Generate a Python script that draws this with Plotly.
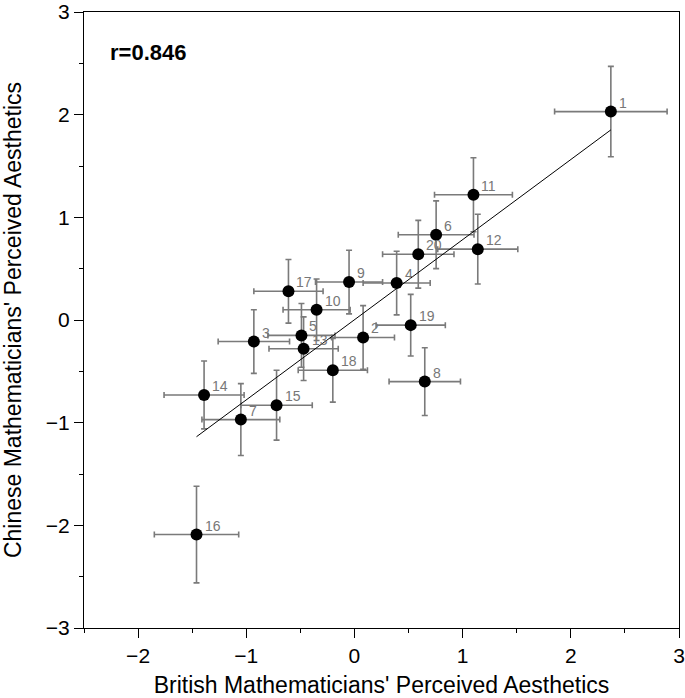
import numpy as np
import plotly.graph_objects as go

labels = [str(i) for i in range(1, 21)]
british = [2.37, 0.08, -0.93, 0.39, -0.49, 0.755, -1.05, 0.65, -0.05, -0.35,
           1.10, 1.14, -0.47, -1.39, -0.72, -1.46, -0.61, -0.20, 0.52, 0.59]
chinese = [2.03, -0.17, -0.21, 0.36, -0.15, 0.83, -0.97, -0.60, 0.37, 0.10,
           1.22, 0.69, -0.28, -0.73, -0.83, -2.09, 0.28, -0.49, -0.05, 0.64]
british_err = [0.52, 0.29, 0.33, 0.31, 0.31, 0.35, 0.36, 0.33, 0.31, 0.31,
               0.36, 0.37, 0.32, 0.37, 0.33, 0.39, 0.32, 0.32, 0.32, 0.33]
chinese_err = [0.44, 0.31, 0.31, 0.31, 0.31, 0.33, 0.35, 0.33, 0.31, 0.30,
               0.36, 0.34, 0.31, 0.33, 0.34, 0.47, 0.31, 0.31, 0.30, 0.33]
r_text = "r=0.846"

bx = np.array(british)
cy = np.array(chinese)
slope, intercept = np.polyfit(bx, cy, 1)
fit_x = np.array([bx.min(), bx.max()])
fit_y = slope * fit_x + intercept

font = "Liberation Sans, Arial, Helvetica, sans-serif"
fig = go.Figure()
fig.add_trace(go.Scatter(
    x=british, y=chinese, mode="markers",
    marker=dict(color="black", size=12),
    error_x=dict(type="data", array=british_err, color="#7a7a7a", thickness=1.6, width=3),
    error_y=dict(type="data", array=chinese_err, color="#7a7a7a", thickness=1.6, width=3),
    showlegend=False, hoverinfo="skip"))
fig.add_trace(go.Scatter(
    x=fit_x, y=fit_y, mode="lines", line=dict(color="black", width=1),
    showlegend=False, hoverinfo="skip"))

for lab, xv, yv in zip(labels, british, chinese):
    fig.add_annotation(x=xv, y=yv, text=lab, showarrow=False,
                       xanchor="left", yanchor="middle", xshift=6, yshift=9,
                       font=dict(family=font, size=14, color="#777777"))

fig.add_annotation(x=-1.91, y=2.61, text="<b>" + r_text + "</b>", showarrow=False,
                   xanchor="center", yanchor="middle",
                   font=dict(family=font, size=22, color="black"))

axis_common = dict(
    showgrid=False, zeroline=False, showline=True, mirror=True, automargin=False,
    linecolor="black", linewidth=1, ticks="outside", ticklen=9, tickwidth=1,
    tickcolor="black", dtick=1, tick0=0, ticklabeloverflow="allow",
    tickfont=dict(family=font, size=21, color="black"),
    minor=dict(dtick=0.5, tick0=0, ticks="outside", ticklen=4, tickcolor="black", showgrid=False),
)
fig.update_xaxes(range=[-2.5, 3],
                 title=dict(text="British Mathematicians' Perceived Aesthetics",
                            font=dict(family=font, size=23, color="black"), standoff=10),
                 **axis_common)
fig.update_yaxes(range=[-3, 3],
                 title=dict(text="Chinese Mathematicians' Perceived Aesthetics",
                            font=dict(family=font, size=23, color="black"), standoff=24),
                 **axis_common)
fig.update_layout(width=685, height=698, plot_bgcolor="white", paper_bgcolor="white",
                  margin=dict(l=84, r=6, t=12, b=70),
                  font=dict(family=font))
fig.write_html("out.html", config={"displayModeBar": False},
               post_script="document.body.style.margin='0px';")
